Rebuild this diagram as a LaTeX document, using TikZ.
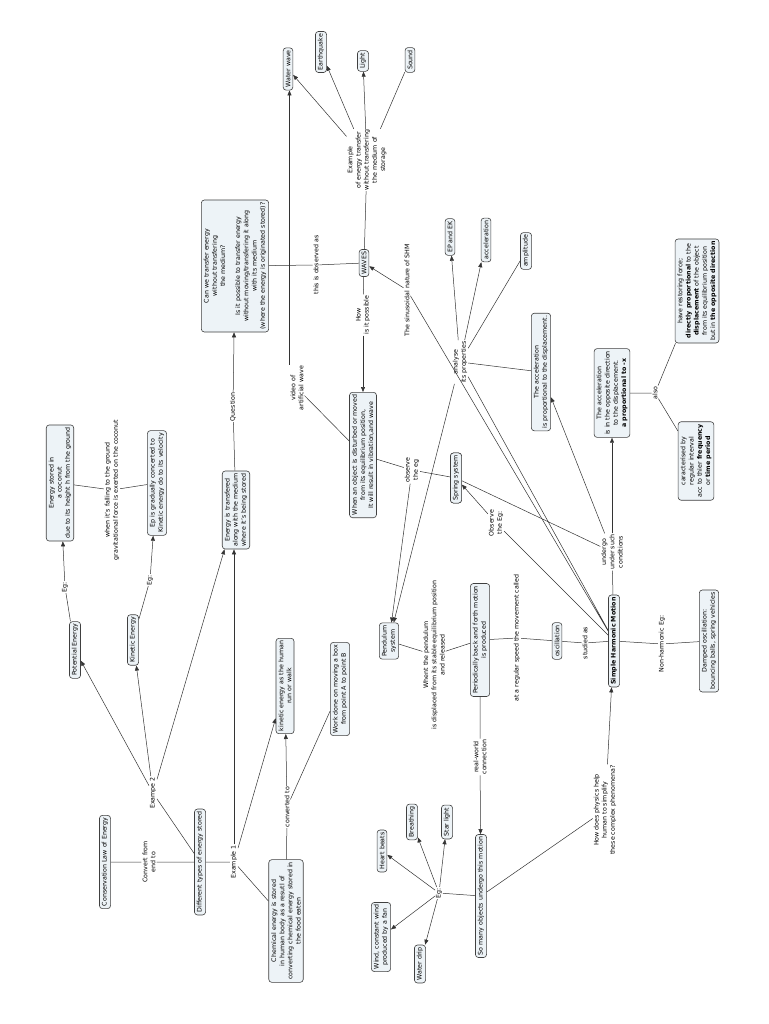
\documentclass[tikz,border=0pt]{standalone}
\usepackage{fontspec}
\setmainfont{DejaVu Sans}
\usetikzlibrary{arrows.meta}
\definecolor{cfill}{HTML}{EDF3F7}
\begin{document}
\begin{tikzpicture}[x=1pt,y=1pt,
  every node/.style={font=\fontsize{6.3}{8.2}\selectfont},
  c/.style={draw=black!75,fill=cfill,rounded corners=3pt,rotate=90,align=center,inner sep=2.5pt,line width=0.6pt},
  l/.style={fill=white,rotate=90,align=center,inner sep=0.8pt},
  ln/.style={draw=black!80,line width=0.5pt},
  ar/.style={ln,-{Triangle[length=5pt,width=4pt]}}]
\useasboundingbox (0,0) rectangle (768,-1024);
\fill[white] (0,0) rectangle (768,-1024);
% connectors first (boxes drawn over later via layers)
\begin{scope}[on background layer/.style={}]
\end{scope}
% concepts
\node[c] (cons) at (105,-862) {Conservation Law of Energy};
\node[c] (diff) at (200,-862) {Different types of energy stored};
\node[c] (chem) at (286,-921) {Chemical energy is stored\\in human body as a resutl of\\converting chemical energy stored in\\the food eaten};
\node[c] (kh) at (285,-686) {kinetic energy as the human\\run or walk};
\node[c] (work) at (340,-689) {Work done on moving a box\\from point A to point B};
\node[c] (pe) at (75,-650) {Potential Energy};
\node[c] (ke) at (133,-640) {Kinetic Energy};
\node[c] (coco) at (60,-483) {Energy stored in\\a coconut\\due to its height h from the ground};
\node[c] (epk) at (157,-483) {Ep is gradually concerted to\\Kinetic energy do to its velocity};
\node[c] (etr) at (236,-510) {Energy is transfered\\along with the medium\\where it's being stored};
\node[c] (q) at (235,-266) {Can we transfer energy\\without transfering\\the medium?\\[7pt]Is it possible to transfer energy\\without moving/transfering it along\\with its medium\\(where the energy is originated stored)?};
\node[c] (obj) at (363,-455) {When an object is disturbed or moved\\from its equilibrium position,\\It will result in vibration,and wave};
\node[c] (waves) at (364,-263) {WAVES};
\node[c] (ww) at (288,-69) {Water wave};
\node[c] (eq) at (321,-52) {Earthquake};
\node[c] (light) at (363,-61) {Light};
\node[c] (sound) at (410,-60) {Sound};
\node[c] (epek) at (450,-237) {EP and EK};
\node[c] (acc) at (486,-240) {acceleration};
\node[c] (amp) at (526,-251) {amplitude};
\node[c] (aprop) at (541,-372) {The acceleration\\is proportional to the displacement.};
\node[c] (aopp) at (612,-393) {The acceleration\\is in the opposite direction\\to the displacement.\\\textbf{a proportional to -x}};
\node[c] (rest) at (697,-291) {have restoring force;\\\textbf{directly proportional} to the\\\textbf{displacement} of the object\\from its equilibrium position\\but in \textbf{the opposite direction}};
\node[c] (car) at (696,-461) {caracterised by\\regular interval\\acc to thier \textbf{frequency}\\or \textbf{time period}};
\node[c] (spring) at (456,-478) {Spring system};
\node[c] (shm) at (614,-641) {\textbf{Simple Harmonic Motion}};
\node[c] (damp) at (709,-641) {Damped oscillation:\\bouncing balls, spring vehicles};
\node[c] (osc) at (557,-641) {oscillation};
\node[c] (per) at (480,-640) {Periodically back and forth motion\\is produced};
\node[c] (pend) at (389,-641) {Pendulum\\system};
\node[c] (many) at (481,-896) {So many objects undergo this motion};
\node[c] (heart) at (382,-851) {Heart beats};
\node[c] (breath) at (412,-822) {Breathing};
\node[c] (star) at (447,-822) {Star light};
\node[c] (wind) at (381,-937) {Wind, constant wind\\produced by a fan};
\node[c] (drip) at (420,-964) {Water drip};
% linking phrases
\node[l] (l1) at (149,-862) {Convert from\\end to};
\node[l] (l2) at (153,-793) {Exampe 2};
\node[l] (l3) at (234,-862) {Example 1};
\node[l] (l4) at (287,-807) {converted to};
\node[l] (l5) at (65,-587) {Eg:};
\node[l] (l6) at (150,-580) {Eg:};
\node[l] (l7) at (112,-490) {when it's falling to the ground\\gravitational force is exerted on the coconut};
\node[l] (l8) at (233,-407) {Question};
\node[l] (l9) at (297,-388) {video of\\artificial wave};
\node[l] (l10) at (316,-265) {this is observed as};
\node[l] (l11) at (363,-315) {How\\is it possible};
\node[l] (l12) at (367,-160) {Example\\of energy transfer\\without transfering\\the medium of\\storage};
\node[l] (l13) at (407,-290) {The sinusoidal nature of SHM};
\node[l] (l14) at (460,-362) {analyse\\its properties};
\node[l] (l15) at (412,-470) {observe\\the eg};
\node[l] (l16) at (496,-523) {Observe\\the Eg:};
\node[l] (l17) at (612,-552) {undergo\\under such\\conditions};
\node[l] (l18) at (655,-393) {also};
\node[l] (l19) at (434,-655) {Whent the pendulum\\is displaced from its stable equilibrium position\\and released};
\node[l] (l20) at (517,-638) {at a regular speed the movement called};
\node[l] (l21) at (585,-643) {studied as};
\node[l] (l22) at (662,-644) {Non-harmonic Eg:};
\node[l] (l23) at (480,-757) {real-world\\connection};
\node[l] (l24) at (605,-810) {How does physics help\\human to simplify\\these complex phenomena?};
\node[l] (l25) at (439,-893) {Eg:};
% connectors drawn behind nodes
\begin{scope}[on behind/.style={}]
\end{scope}
\path[ln] (cons) -- (l1) (l1) -- (diff) (diff) -- (l2) (diff) -- (l3) (l3) -- (chem)
  (l4) -- (work) (coco) -- (l7) (l7) -- (epk) (q) -- (l10) (l10) -- (waves)
  (waves) -- (l12) (l12) -- (sound) (waves) -- (l11) (obj) -- (l9) (obj) -- (l15)
  (shm) -- (l13) (shm) -- (l14) (l14) -- (amp) (l14) -- (aprop) (shm) -- (l16)
  (shm) -- (l17) (aopp) -- (l18) (l18) -- (rest) (l18) -- (car)
  (pend) -- (l19) (l19) -- (per) (per) -- (l20) (l20) -- (osc) (osc) -- (l21) (l21) -- (shm)
  (shm) -- (l22) (l22) -- (damp) (per) -- (l23) (many) -- (l24) (many) -- (l25)
  (pe) -- (l5) (ke) -- (l6) (etr) -- (l8) (chem) -- (l4)
  (l15) -- (spring);
\draw[ln] (l17) -- (spring);
\draw[ar] (l2) -- (pe);
\draw[ar] (l2) -- (ke);
\draw[ar] (l2) -- (etr);
\draw[ar] (l3) -- (kh);
\draw[ar] (l3) -- (l3 |- etr.west);
\draw[ar] (l4) -- (kh);
\draw[ar] (l5) -- (coco);
\draw[ar] (l6) -- (epk);
\draw[ar] (l8) -- (q);
\draw[ar] (l12) -- (ww);
\draw[ar] (l12) -- (eq);
\draw[ar] (l12) -- (light);
\draw[ar] (l11) -- (obj);
\draw[ar] (l9.north east) -- (l9.north east |- ww.west);
\draw[ar] (l15) -- (pend);
\draw[ar] (l14) -- (pend);
\draw[ar] (l13) -- (waves);
\draw[ar] (l14) -- (epek);
\draw[ar] (l14) -- (acc);
\draw[ar] (l16) -- (spring);
\draw[ar] (l17) -- (aopp);
\draw[ar] (l17) -- (aprop);
\draw[ar] (l23) -- (many);
\draw[ar] (l24) -- (shm);
\draw[ar] (l25) -- (heart);
\draw[ar] (l25) -- (breath);
\draw[ar] (l25) -- (star);
\draw[ar] (l25) -- (wind);
\draw[ar] (l25) -- (drip);
% redraw spring over crossing line
\node[c] at (456,-478) {Spring system};
\end{tikzpicture}
\end{document}
